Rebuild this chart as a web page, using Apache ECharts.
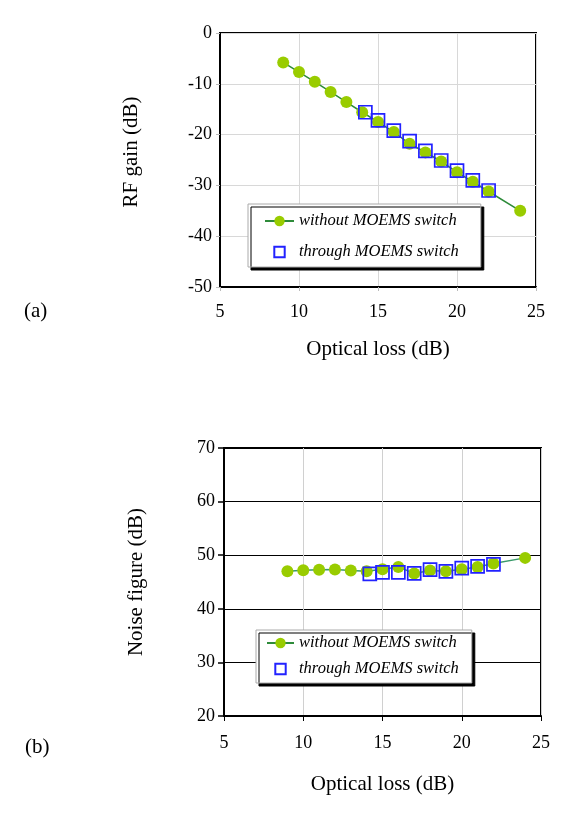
<!DOCTYPE html>
<html>
<head>
<meta charset="utf-8">
<script src="https://cdn.jsdelivr.net/npm/echarts@6/dist/echarts.min.js"></script>
<style>
html,body{margin:0;padding:0;background:#fff;}
#chart{width:583px;height:817px;}
</style>
</head>
<body>
<div id="chart"></div>
<script>
// ---- data ----
const lossWithout = [9, 10, 11, 12, 13, 14, 15, 16, 17, 18, 19, 20, 21, 22, 24];
const gainWithout = [-5.8, -7.7, -9.6, -11.6, -13.6, -15.6, -17.5, -19.5, -21.8, -23.5, -25.3, -27.4, -29.3, -31.2, -35.0];
const lossThrough = [14.2, 15, 16, 17, 18, 19, 20, 21, 22];
const gainThrough = [-15.6, -17.2, -19.2, -21.3, -23.2, -25.1, -27.1, -29.0, -31.0];
const nfWithout = [47.0, 47.2, 47.3, 47.35, 47.15, 47.0, 47.4, 47.8, 46.6, 47.15, 47.0, 47.4, 47.8, 48.45, 49.5];
const nfThrough = [46.5, 46.8, 46.8, 46.6, 47.3, 47.0, 47.6, 47.9, 48.3];
const nameWithout = 'without MOEMS switch';
const nameThrough = 'through MOEMS switch';
const xTitle = 'Optical loss (dB)';
const yTitleA = 'RF gain (dB)';
const yTitleB = 'Noise figure (dB)';

const pairs = (xs, ys) => xs.map((x, i) => [x, ys[i]]);
const FONT = 'Liberation Serif';

const chart = echarts.init(document.getElementById('chart'), null, {renderer: 'canvas'});

const axisText = {fontFamily: FONT, fontSize: 18, color: '#000'};
const nameText = {fontFamily: FONT, fontSize: 21, color: '#000'};

chart.setOption({
  animation: false,
  backgroundColor: '#fff',
  grid: [
    {left: 220, top: 33, width: 316, height: 254, show: true, borderColor: '#000', borderWidth: 2, containLabel: false},
    {left: 224, top: 448, width: 317, height: 268, show: true, borderColor: '#000', borderWidth: 2, containLabel: false}
  ],
  xAxis: [
    {
      gridIndex: 0, type: 'value', min: 5, max: 25, interval: 5,
      name: xTitle, nameLocation: 'middle', nameGap: 52, nameTextStyle: nameText,
      axisLine: {show: true, onZero: false, lineStyle: {color: '#000', width: 2}},
      axisTick: {show: true, length: 4, lineStyle: {color: '#bbb'}},
      axisLabel: Object.assign({margin: 16}, axisText),
      splitLine: {show: true, lineStyle: {color: '#d8d8d8', width: 1}}
    },
    {
      gridIndex: 1, type: 'value', min: 5, max: 25, interval: 5,
      name: xTitle, nameLocation: 'middle', nameGap: 58, nameTextStyle: nameText,
      axisLine: {show: true, onZero: false, lineStyle: {color: '#000', width: 2}},
      axisTick: {show: true, length: 5, lineStyle: {color: '#000'}},
      axisLabel: Object.assign({margin: 18}, axisText),
      splitLine: {show: true, lineStyle: {color: '#d0d0d0', width: 1}}
    }
  ],
  yAxis: [
    {
      gridIndex: 0, type: 'value', min: -50, max: 0, interval: 10,
      name: yTitleA, nameLocation: 'middle', nameGap: 78, nameTextStyle: Object.assign({padding: [0, 0, 0, 16]}, nameText),
      axisLine: {show: true, onZero: false, lineStyle: {color: '#000', width: 2}},
      axisTick: {show: true, length: 4, lineStyle: {color: '#bbb'}},
      axisLabel: Object.assign({margin: 8}, axisText),
      splitLine: {show: true, lineStyle: {color: '#d8d8d8', width: 1}}
    },
    {
      gridIndex: 1, type: 'value', min: 20, max: 70, interval: 10,
      name: yTitleB, nameLocation: 'middle', nameGap: 77, nameTextStyle: nameText,
      axisLine: {show: true, onZero: false, lineStyle: {color: '#000', width: 2}},
      axisTick: {show: true, length: 6, lineStyle: {color: '#000', width: 1.5}},
      axisLabel: Object.assign({margin: 9}, axisText),
      splitLine: {show: true, lineStyle: {color: '#000', width: 1.2}}
    }
  ],
  legend: [
    {
      orient: 'vertical', left: 248, top: 204,
      data: [nameWithout, nameThrough],
      itemWidth: 29, itemHeight: 13, itemGap: 11,
      padding: [7, 22, 5, 16],
      backgroundColor: '#fff', borderColor: '#aaa', borderWidth: 1,
      shadowColor: '#000', shadowBlur: 0, shadowOffsetX: 3, shadowOffsetY: 3,
      textStyle: {fontFamily: FONT, fontStyle: 'italic', fontSize: 16.5, color: '#000', lineHeight: 20},
      selectedMode: false
    },
    {
      orient: 'vertical', left: 256, top: 630,
      data: [nameWithout, nameThrough],
      itemWidth: 27, itemHeight: 13, itemGap: 8,
      padding: [4, 13, 5, 10],
      backgroundColor: '#fff', borderColor: '#aaa', borderWidth: 1,
      shadowColor: '#000', shadowBlur: 0, shadowOffsetX: 3, shadowOffsetY: 3,
      textStyle: {fontFamily: FONT, fontStyle: 'italic', fontSize: 16.5, color: '#000', lineHeight: 18},
      selectedMode: false
    }
  ],
  graphic: [
    {type: 'text', left: 24, top: 301, style: {text: '(a)', font: '21px "Liberation Serif"', fill: '#000'}},
    {type: 'text', left: 25, top: 737, style: {text: '(b)', font: '21px "Liberation Serif"', fill: '#000'}}
  ],
  series: [
    {
      name: nameWithout, type: 'line', xAxisIndex: 0, yAxisIndex: 0,
      data: pairs(lossWithout, gainWithout),
      symbol: 'circle', symbolSize: 12,
      lineStyle: {color: '#2e8b3a', width: 1.5},
      itemStyle: {color: '#99cc00'},
      z: 2
    },
    {
      name: nameThrough, type: 'line', xAxisIndex: 0, yAxisIndex: 0,
      data: pairs(lossThrough, gainThrough),
      symbol: 'rect', symbolSize: 13,
      lineStyle: {color: 'rgba(0,0,0,0)', width: 0},
      itemStyle: {color: 'rgba(0,0,0,0)', borderColor: '#2222ff', borderWidth: 1.7},
      z: 3
    },
    {
      name: nameWithout, type: 'line', xAxisIndex: 1, yAxisIndex: 1,
      data: pairs(lossWithout, nfWithout),
      symbol: 'circle', symbolSize: 12,
      lineStyle: {color: '#3a9a6a', width: 1.5},
      itemStyle: {color: '#99cc00'},
      z: 2
    },
    {
      name: nameThrough, type: 'line', xAxisIndex: 1, yAxisIndex: 1,
      data: pairs(lossThrough, nfThrough),
      symbol: 'rect', symbolSize: 13,
      lineStyle: {color: 'rgba(0,0,0,0)', width: 0},
      itemStyle: {color: 'rgba(0,0,0,0)', borderColor: '#2222ff', borderWidth: 1.7},
      z: 3
    }
  ]
});
</script>
</body>
</html>
